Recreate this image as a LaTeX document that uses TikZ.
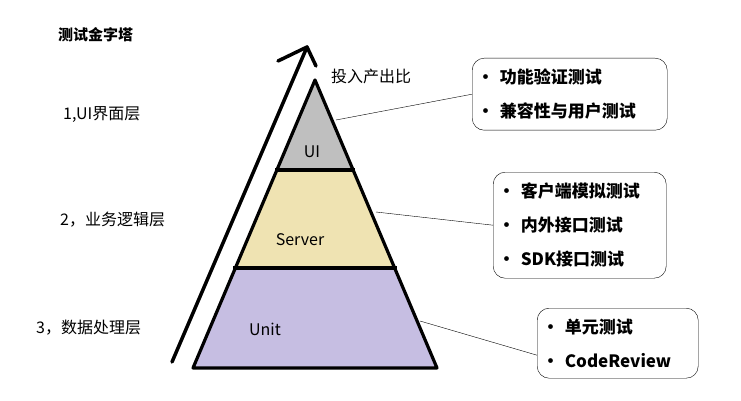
\documentclass[tikz,border=0pt]{standalone}
\usepackage{fontspec}
\setmainfont{Noto Sans CJK SC}
\begin{document}
\begin{tikzpicture}[x=1pt,y=-1pt,
  lbl/.style={anchor=west,inner sep=0pt,font=\fontsize{16}{18}\selectfont},
  box/.style={draw,rounded corners=12pt,thin,inner xsep=5pt,inner ysep=0pt,align=left,anchor=north west,font=\bfseries\fontsize{17}{34}\selectfont},
  tri/.style={line width=3.2pt,line join=round},
  conn/.style={thin}]
\useasboundingbox (0,0) rectangle (741,401);
% layers
\fill[gray!50] (315,80) -- (277,170) -- (353,170) -- cycle;
\fill[fill={rgb,255:red,239;green,227;blue,178}] (277,170) -- (235,268) -- (395,268) -- (353,170) -- cycle;
\fill[fill={rgb,255:red,198;green,190;blue,226}] (235,268) -- (193,368) -- (437,368) -- (395,268) -- cycle;
\draw[tri] (315,80) -- (193,368) -- (437,368) -- cycle;
\draw[line width=3.2pt] (275,170) -- (355,170);
\draw[line width=3.2pt] (233,268) -- (397,268);
\node[font=\fontsize{16}{18}\selectfont] (ui) at (312,152) {UI};
\node[font=\fontsize{16}{18}\selectfont] (sv) at (300,240) {Server};
\node[font=\fontsize{16}{18}\selectfont] (un) at (265,329) {Unit};
\coordinate (pUI) at (336,120);
\coordinate (pSV) at (376,212);
\coordinate (pUN) at (420,321);
% arrow
\coordinate (a0) at (172,362);
\coordinate (a1) at (307,47);
\draw[line width=3.5pt,line cap=round,line join=round] (a0) -- (a1);
\draw[line width=3.5pt,line cap=round,line join=round] (278,61) -- (a1) -- (316,66);
\node[lbl] (roi) at (331,76) {投入产出比};
% left labels
\node[lbl,font=\bfseries\fontsize{15}{17}\selectfont] (title) at (58,35) {测试金字塔};
\node[lbl] (l1) at (63,115) {1,UI界面层};
\node[lbl] (l2) at (60,220) {2，业务逻辑层};
\node[lbl] (l3) at (36,328) {3，数据处理层};
% boxes
\node[box,text width=185pt,minimum height=72pt] (b1) at (472,58) {• 功能验证测试\\• 兼容性与用户测试};
\node[box,text width=163pt,minimum height=106pt] (b2) at (493,172) {• 客户端模拟测试\\• 内外接口测试\\• SDK接口测试};
\node[box,text width=151pt,minimum height=70pt] (b3) at (537,308) {• 单元测试\\• CodeReview};
\draw[conn] (pUI) -- (b1.west);
\draw[conn] (pSV) -- (b2.west);
\draw[conn] (pUN) -- ([yshift=-12pt]b3.west);
\end{tikzpicture}
\end{document}
